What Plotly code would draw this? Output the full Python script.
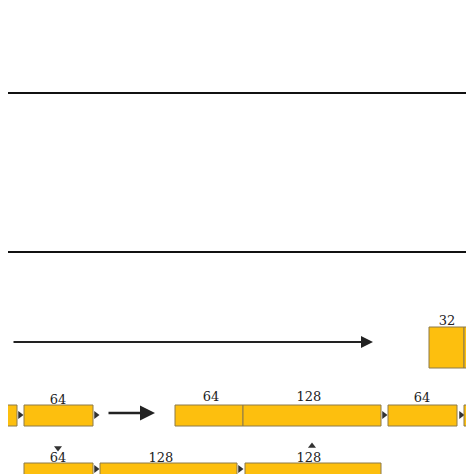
import plotly.graph_objects as go

# boxes: x0, x1, y0, y1 (diagram units, y downward)
box_x0 = [429, 464, -5, 24, 175, 243, 388, 464, 24, 100, 245]
box_x1 = [464, 480, 17, 93, 243, 381, 457, 480, 93, 237, 381]
box_y0 = [327, 327, 405, 405, 405, 405, 405, 405, 463, 463, 463]
box_y1 = [368, 368, 426, 426, 426, 426, 426, 426, 490, 490, 490]
labels = ["32", "", "", "64", "64", "128", "64", "", "64", "128", "128"]
label_x = [447, 0, 0, 58, 211, 309, 422, 0, 58, 161, 309]
label_y = [322, 0, 0, 401, 398, 398, 399, 0, 459, 459, 459]

fig = go.Figure()
for x0, x1, y0, y1 in zip(box_x0, box_x1, box_y0, box_y1):
    fig.add_shape(type="rect", x0=x0, x1=x1, y0=y0, y1=y1,
                  fillcolor="#FDBF0E", line=dict(color="#8c7a4a", width=1))
fig.add_trace(go.Scatter(
    x=[lx for lx, t in zip(label_x, labels) if t],
    y=[ly for ly, t in zip(label_y, labels) if t],
    text=[t for t in labels if t], mode="text",
    textfont=dict(family="DejaVu Serif", size=13, color="#222"),
    showlegend=False, cliponaxis=False))

# horizontal rules
for yy in [93, 252]:
    fig.add_shape(type="line", x0=-10, x1=490, y0=yy, y1=yy, line=dict(color="#111", width=2))

# big arrows
arrows = [(12, 373, 342, 2), (107, 155, 413, 2.5)]
for xa, xb, ya, w in arrows:
    fig.add_annotation(x=xb, y=ya, ax=xa, ay=ya, xref="x", yref="y", axref="x", ayref="y",
                       showarrow=True, arrowhead=2, arrowsize=1.2, arrowwidth=w,
                       arrowcolor="#222", text="")

# small connector arrowheads
tri_x = [20, 96, 384, 461, 96, 240]
tri_y = [415, 415, 415, 415, 469, 469]
fig.add_trace(go.Scatter(x=tri_x, y=tri_y, mode="markers",
                         marker=dict(symbol="triangle-right", size=7, color="#333"),
                         showlegend=False))
fig.add_trace(go.Scatter(x=[58], y=[448], mode="markers",
                         marker=dict(symbol="triangle-down", size=7, color="#333"), showlegend=False))
fig.add_trace(go.Scatter(x=[312], y=[446], mode="markers",
                         marker=dict(symbol="triangle-up", size=7, color="#333"), showlegend=False))

# page has an 8px body margin; shift the visible window so diagram units match page pixels
fig.update_xaxes(range=[8, 482], visible=False)
fig.update_yaxes(range=[482, 8], visible=False)
fig.update_layout(width=474, height=474, margin=dict(l=0, r=0, t=0, b=0),
                  plot_bgcolor="white", paper_bgcolor="white")
fig.write_html("out.html")
